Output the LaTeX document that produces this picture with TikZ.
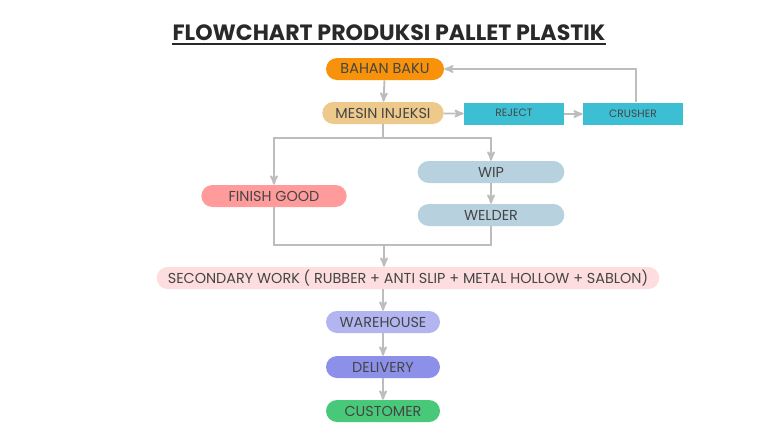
\documentclass[tikz,border=0pt]{standalone}
\usepackage{fontspec}
\setmainfont{Poppins}
\usetikzlibrary{arrows, positioning}
\definecolor{txtgray}{HTML}{454545}
\definecolor{linegray}{HTML}{BDBDBD}
\definecolor{cBahan}{HTML}{F7920A}
\definecolor{cMesin}{HTML}{EDC98B}
\definecolor{cReject}{HTML}{3DBFD3}
\definecolor{cFinish}{HTML}{FF9B9B}
\definecolor{cWip}{HTML}{B8D1DF}
\definecolor{cSecond}{HTML}{FDDDDD}
\definecolor{cWare}{HTML}{B3B5F1}
\definecolor{cDeliv}{HTML}{8D90E9}
\definecolor{cCust}{HTML}{48C879}

\begin{document}
\begin{tikzpicture}[>= stealth', x=0.75pt, y=-0.75pt]
            \tikzstyle{proc}=[rounded corners=8.25pt, minimum height=16.5pt, inner sep=0pt, text=txtgray, font=\fontsize{10.8}{12}\selectfont]
            \tikzstyle{sqbox}=[proc, rounded corners=0pt, minimum width=75pt, minimum height=17pt, fill=cReject, font=\fontsize{8}{9}\selectfont]
            \tikzstyle{link}=[draw=linegray, line width=1.4pt]

            \useasboundingbox (0,0) rectangle (768,433);

            \node[inner xsep=0pt, font=\bfseries\fontsize{16.6}{20}\selectfont, text=txtgray!60!black] (title) at (389,33) {FLOWCHART PRODUKSI PALLET PLASTIK};
            \draw[txtgray!60!black, line width=1.3pt] ([yshift=-2.2pt]title.base west) -- ([yshift=-2.2pt]title.base east);

            \node[proc, fill=cBahan, minimum width=88.5pt] (bahan) at (385,69) {BAHAN BAKU};
            \node[proc, fill=cMesin, minimum width=91pt] (mesin) at (383,113) {MESIN INJEKSI};
            \node[sqbox] (reject) at (514,114) {\raisebox{2pt}{REJECT}};
            \node[sqbox] (crusher) at (633,114) {CRUSHER};
            \node[proc, fill=cFinish, minimum width=109pt] (finish) at (274,196) {FINISH GOOD};
            \node[proc, fill=cWip, minimum width=110pt] (wip) at (491,172) {WIP};
            \node[proc, fill=cWip, minimum width=110pt] (welder) at (491,215) {WELDER};
            \node[proc, fill=cSecond, minimum width=377pt] (second) at (408,278) {SECONDARY WORK ( RUBBER + ANTI SLIP + METAL HOLLOW + SABLON)};
            \node[proc, fill=cWare, minimum width=85.5pt] (ware) at (383,322) {WAREHOUSE};
            \node[proc, fill=cDeliv, minimum width=85.5pt] (deliv) at (383,367) {DELIVERY};
            \node[proc, fill=cCust, minimum width=85.5pt] (cust) at (383,411) {CUSTOMER};

            \coordinate (split) at (383,138);
            \coordinate (merge) at (384,245);

            \path[link, ->] (bahan) -- (mesin);
            \path[link, ->] (mesin) -- (reject);
            \path[link, ->] (reject) -- (crusher);
            \path[link, ->] (crusher.north -| 636,0) |- (bahan.east);
            \path[link] (mesin) -- (split);
            \path[link, ->] (split) -| (finish.north);
            \path[link, ->] (split) -| (wip.north);
            \path[link, ->] (wip) -- (welder);
            \path[link] (finish.south) |- (merge) -| (welder.south);
            \path[link, ->] (merge) -- (merge |- second.north);
            \path[link, ->] (second.south -| ware) -- (ware);
            \path[link, ->] (ware) -- (deliv);
            \path[link, ->] (deliv) -- (cust);

          \end{tikzpicture}
\end{document}
